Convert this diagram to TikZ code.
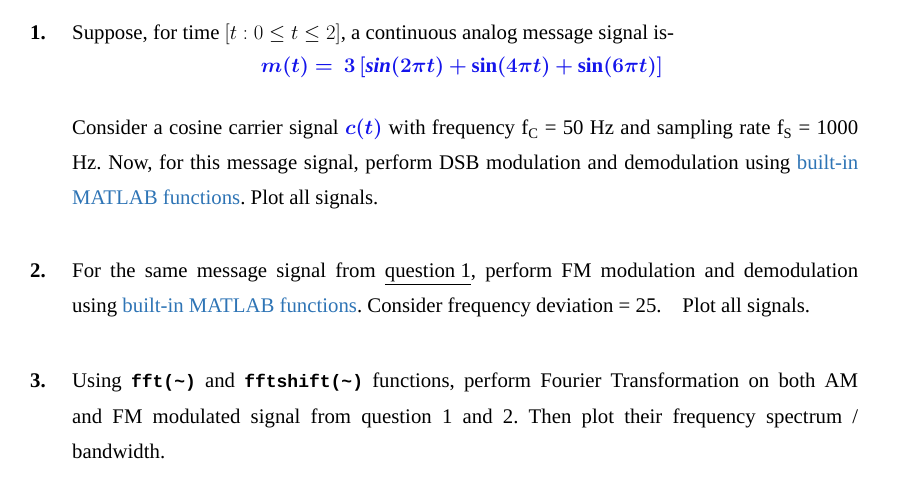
\documentclass[tikz,border=0pt]{standalone}
\usepackage{amsmath,bm}
\usepackage{fontspec}
\setmainfont{Liberation Serif}
\setmonofont{Liberation Mono}
\definecolor{mblue}{RGB}{20,20,235}
\definecolor{lblue}{RGB}{46,116,181}
\frenchspacing
\newcommand{\jl}[1]{\makebox[786pt][s]{#1}}
\begin{document}
\begin{tikzpicture}[x=1pt,y=-1pt,
  txt/.style={anchor=base west,inner sep=0pt,font=\fontsize{20.8}{24}\selectfont},
  num/.style={anchor=base west,inner sep=0pt,font=\bfseries\fontsize{20.8}{24}\selectfont}]
\useasboundingbox (0,0) rectangle (922,487);
\node[num] (n1) at (30,40) {1.};
\node[txt] (l1) at (72,40) {Suppose, for time $[t:0\leq t\leq 2]$, a continuous analog message signal is-};
\node[txt,anchor=base] (f) at (462,73) {\color{mblue}$\bm{m(t)=\ 3\,[\mathit{sin}(2\pi t)+\textbf{sin}(4\pi t)+\textbf{sin}(6\pi t)]}$};
\node[txt] (l2) at (72,135) {\jl{Consider a cosine carrier signal {\color{mblue}$\bm{c(t)}$} with frequency f\textsubscript{C} = 50 Hz and sampling rate f\textsubscript{S} = 1000}};
\node[txt] (l3) at (72,169) {\jl{Hz. Now, for this message signal, perform DSB modulation and demodulation using {\color{lblue}built-in}}};
\node[txt] (l4) at (72,204) {{\color{lblue}MATLAB functions}. Plot all signals.};
\node[num] (n2) at (30,277) {2.};
\node[txt] (l5) at (72,277) {\jl{For the same message signal from \underline{question 1}, perform FM modulation and demodulation}};
\node[txt] (l6) at (72,312) {using {\color{lblue}built-in MATLAB functions}. Consider frequency deviation = 25.\quad Plot all signals.};
\node[num] (n3) at (30,387) {3.};
\node[txt] (l7) at (72,387) {\jl{Using {\fontsize{18}{20}\selectfont\texttt{\textbf{fft(\textasciitilde)}}} and {\fontsize{18}{20}\selectfont\texttt{\textbf{fftshift(\textasciitilde)}}} functions, perform Fourier Transformation on both AM}};
\node[txt] (l8) at (72,423) {\jl{and FM modulated signal from question 1 and 2. Then plot their frequency spectrum /}};
\node[txt] (l9) at (72,458) {bandwidth.};
\end{tikzpicture}
\end{document}
